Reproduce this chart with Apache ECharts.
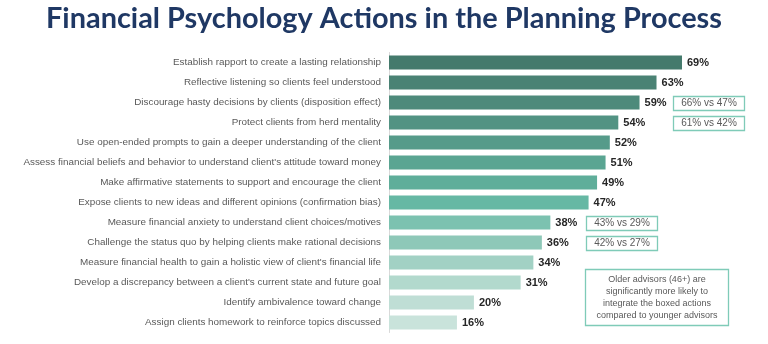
<!DOCTYPE html>
<html>
<head>
<meta charset="utf-8">
<script src="https://cdn.jsdelivr.net/npm/echarts@6/dist/echarts.min.js"></script>
<style>html,body{margin:0;padding:0;background:#fff;}#c{width:768px;height:344px;}</style>
</head>
<body>
<div id="c"></div>
<script>
var categories = [
  "Establish rapport to create a lasting relationship",
  "Reflective listening so clients feel understood",
  "Discourage hasty decisions by clients (disposition effect)",
  "Protect clients from herd mentality",
  "Use open-ended prompts to gain a deeper understanding of the client",
  "Assess financial beliefs and behavior to understand client's attitude toward money",
  "Make affirmative statements to support and encourage the client",
  "Expose clients to new ideas and different opinions (confirmation bias)",
  "Measure financial anxiety to understand client choices/motives",
  "Challenge the status quo by helping clients make rational decisions",
  "Measure financial health to gain a holistic view of client's financial life",
  "Develop a discrepancy between a client's current state and future goal",
  "Identify ambivalence toward change",
  "Assign clients homework to reinforce topics discussed"
];
var values = [69, 63, 59, 54, 52, 51, 49, 47, 38, 36, 34, 31, 20, 16];
var barColors = ["#447a6c","#4a8274","#4e8a7b","#529383","#569b8a","#5aa592","#5fae9a","#66b8a4",
                 "#7cc2b0","#8ec8b8","#a2d1c4","#b2d9cd","#bfded5","#c9e3db"];
var boxedRows = [2, 3, 8, 9];
var boxTexts = ["66% vs 47%", "61% vs 42%", "43% vs 29%", "42% vs 27%"];
var noteLines = ["Older advisors (46+) are", "significantly more likely to", "integrate the boxed actions", "compared to younger advisors"];

var chart = echarts.init(document.getElementById('c'));
var option = {
  animation: false,
  title: {
    text: "Financial Psychology Actions in the Planning Process",
    left: 'center', top: -1,
    textStyle: { fontFamily: 'Lato', fontWeight: 'bold', fontSize: 28.9, color: '#1f3864' }
  },
  grid: { left: 389, right: 39.3, top: 52.5, bottom: 11.5, containLabel: false },
  xAxis: { type: 'value', min: 0, max: 80, show: false },
  yAxis: {
    type: 'category', inverse: true, data: categories,
    axisLine: { show: true, lineStyle: { color: '#d9d9d9', width: 1 } },
    axisTick: { show: false },
    axisLabel: { margin: 8, fontFamily: 'Liberation Sans', fontSize: 9.9, color: '#595959' }
  },
  series: [{
    type: 'bar', data: values.map(function (v, i) { return { value: v, itemStyle: { color: barColors[i] } }; }),
    barWidth: 14,
    label: {
      show: true, position: 'right', distance: 5,
      formatter: '{c}%',
      fontFamily: 'Liberation Sans', fontWeight: 'bold', fontSize: 11, color: '#262626'
    }
  }]
};
chart.setOption(option);

var boxX = [673, 673, 586, 586];
var g = [];
boxedRows.forEach(function (r, k) {
  var y = chart.convertToPixel({ yAxisIndex: 0 }, categories[r]);
  g.push({
    type: 'rect', shape: { x: boxX[k] + 0.5, y: Math.round(y - 7) + 0.5, width: 71, height: 14 },
    style: { fill: '#fff', stroke: '#7fcbb8', lineWidth: 1.3 }
  });
  g.push({
    type: 'text', x: boxX[k] + 36, y: y + 0.5,
    style: { text: boxTexts[k], fill: '#595959', fontFamily: 'Liberation Sans', fontSize: 10, align: 'center', verticalAlign: 'middle' }
  });
});
g.push({
  type: 'rect', shape: { x: 585.5, y: 269.5, width: 143, height: 56 },
  style: { fill: '#fff', stroke: '#7fcbb8', lineWidth: 1.3 }
});
g.push({
  type: 'text', x: 657, y: 297.5,
  style: { text: noteLines.join('\n'), fill: '#595959', fontFamily: 'Liberation Sans', fontSize: 9, lineHeight: 11.7, align: 'center', verticalAlign: 'middle' }
});
chart.setOption({ graphic: g });
</script>
</body>
</html>
